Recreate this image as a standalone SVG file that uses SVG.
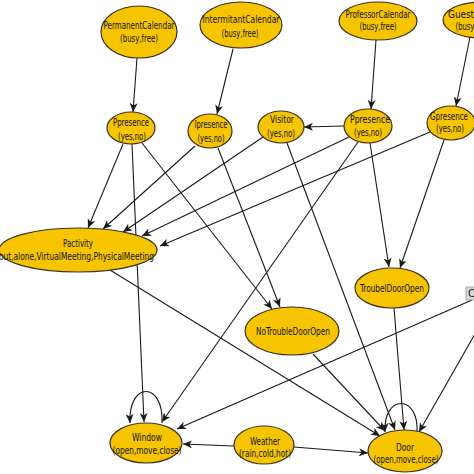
<svg xmlns="http://www.w3.org/2000/svg" width="474" height="474" viewBox="0 0 474 474">
<style>
.n ellipse{fill:#F6C500;stroke:#3a3020;stroke-width:1.2}
.n text{font-family:"DejaVu Sans Condensed","Liberation Sans",sans-serif;font-size:10.5px;fill:#111111;text-anchor:middle}
.e line,.e path{stroke:#1a1a1a;stroke-width:1.1;fill:none;marker-end:url(#ah)}
</style>
<defs>
<marker id="ah" markerUnits="userSpaceOnUse" markerWidth="10" markerHeight="8" refX="9" refY="4" orient="auto">
<path d="M0,0 L9,4 L0,8 L2.5,4 Z" fill="#1a1a1a"/>
</marker>
</defs>
<rect width="474" height="474" fill="#ffffff"/>
<g id="connectors" class="e">
<line x1="137" y1="58" x2="133" y2="112"/>
<line x1="233" y1="49" x2="217" y2="114"/>
<line x1="376" y1="40" x2="371" y2="109"/>
<line x1="470" y1="37" x2="456" y2="106"/>
<line x1="344" y1="126" x2="304" y2="127"/>
<line x1="123" y1="144" x2="88" y2="228"/>
<line x1="195" y1="146" x2="103" y2="229"/>
<line x1="263" y1="137" x2="123" y2="232"/>
<line x1="349" y1="137" x2="142" y2="236"/>
<line x1="430" y1="132" x2="160" y2="246"/>
<line x1="132" y1="144" x2="144" y2="422"/>
<line x1="142" y1="143" x2="272" y2="309"/>
<line x1="218" y1="148" x2="280" y2="307"/>
<line x1="287" y1="143" x2="395" y2="430"/>
<line x1="358" y1="142" x2="162" y2="422"/>
<line x1="370" y1="143" x2="389" y2="267"/>
<line x1="444" y1="140" x2="400" y2="268"/>
<line x1="110" y1="270" x2="380" y2="436"/>
<line x1="313" y1="354" x2="385" y2="431"/>
<line x1="394" y1="308" x2="404" y2="430"/>
<line x1="472" y1="300" x2="177" y2="429"/>
<line x1="480" y1="325" x2="419" y2="432"/>
<line x1="234" y1="446" x2="183" y2="444"/>
<line x1="294" y1="447" x2="368" y2="453"/>
<path d="M162,423 C164,381 128,381 130,423"/>
<path d="M417,432 C419,394 383,394 385,432"/>
</g>
<g id="PermanentCalendar" class="n"><ellipse cx="139" cy="32" rx="38" ry="26"/><text x="139" y="29" textLength="71" lengthAdjust="spacingAndGlyphs">PermanentCalendar</text><text x="139" y="42" textLength="38" lengthAdjust="spacingAndGlyphs">(busy,free)</text></g>
<g id="IntermitantCalendar" class="n"><ellipse cx="241" cy="25" rx="41" ry="23"/><text x="241" y="23" textLength="77" lengthAdjust="spacingAndGlyphs">IntermitantCalendar</text><text x="240" y="37" textLength="37" lengthAdjust="spacingAndGlyphs">(busy,free)</text></g>
<g id="ProfessorCalendar" class="n"><ellipse cx="378" cy="21" rx="39" ry="19"/><text x="378" y="18" textLength="65" lengthAdjust="spacingAndGlyphs">ProfessorCalendar</text><text x="378" y="30" textLength="37" lengthAdjust="spacingAndGlyphs">(busy,free)</text></g>
<g id="GuestCalendar" class="n"><ellipse cx="481" cy="20" rx="38" ry="18"/><text x="481" y="18" textLength="66" lengthAdjust="spacingAndGlyphs">GuestCalendar</text><text x="474" y="30" textLength="37" lengthAdjust="spacingAndGlyphs">(busy,free)</text></g>
<g id="Ppresence1" class="n"><ellipse cx="131" cy="128" rx="24" ry="16"/><text x="131" y="126" textLength="36" lengthAdjust="spacingAndGlyphs">Ppresence</text><text x="132" y="140" textLength="28" lengthAdjust="spacingAndGlyphs">(yes,no)</text></g>
<g id="Ipresence" class="n"><ellipse cx="210" cy="131" rx="22" ry="17"/><text x="211" y="128" textLength="33" lengthAdjust="spacingAndGlyphs">Ipresence</text><text x="211" y="142" textLength="27" lengthAdjust="spacingAndGlyphs">(yes,no)</text></g>
<g id="Visitor" class="n"><ellipse cx="281" cy="127" rx="23" ry="16"/><text x="282" y="123" textLength="24" lengthAdjust="spacingAndGlyphs">Visitor</text><text x="281" y="137" textLength="28" lengthAdjust="spacingAndGlyphs">(yes,no)</text></g>
<g id="Ppresence2" class="n"><ellipse cx="368" cy="126" rx="24" ry="17"/><text x="370" y="123" textLength="40" lengthAdjust="spacingAndGlyphs">Ppresence</text><text x="368" y="136" textLength="28" lengthAdjust="spacingAndGlyphs">(yes,no)</text></g>
<g id="Gpresence" class="n"><ellipse cx="451" cy="123" rx="24" ry="17"/><text x="449" y="120" textLength="38" lengthAdjust="spacingAndGlyphs">Gpresence</text><text x="450" y="132" textLength="28" lengthAdjust="spacingAndGlyphs">(yes,no)</text></g>
<g id="Pactivity" class="n"><ellipse cx="78" cy="250" rx="79" ry="22"/><text x="78" y="247" textLength="30" lengthAdjust="spacingAndGlyphs">Pactivity</text><text x="75" y="260" textLength="158" lengthAdjust="spacingAndGlyphs">(out,alone,VirtualMeeting,PhysicalMeeting</text></g>
<g id="TroubelDoorOpen" class="n"><ellipse cx="392" cy="288" rx="37" ry="20"/><text x="392" y="292" textLength="64" lengthAdjust="spacingAndGlyphs">TroubelDoorOpen</text></g>
<g id="NoTroubleDoorOpen" class="n"><ellipse cx="292" cy="331" rx="47" ry="24"/><text x="293" y="335" textLength="74" lengthAdjust="spacingAndGlyphs">NoTroubleDoorOpen</text></g>
<g id="Window" class="n"><ellipse cx="146" cy="443" rx="36" ry="20"/><text x="147" y="441" textLength="30" lengthAdjust="spacingAndGlyphs">Window</text><text x="147" y="454" textLength="69" lengthAdjust="spacingAndGlyphs">(open,move,close)</text></g>
<g id="Weather" class="n"><ellipse cx="264" cy="445" rx="30" ry="19"/><text x="265" y="445" textLength="30" lengthAdjust="spacingAndGlyphs">Weather</text><text x="265" y="457" textLength="52" lengthAdjust="spacingAndGlyphs">(rain,cold,hot)</text></g>
<g id="Door" class="n"><ellipse cx="405" cy="451" rx="37" ry="21"/><text x="405" y="451" textLength="18" lengthAdjust="spacingAndGlyphs">Door</text><text x="406" y="463" textLength="65" lengthAdjust="spacingAndGlyphs">(open,move,close)</text></g>
<g id="C"><rect x="466" y="287" width="20" height="13" fill="#d9d9d9" stroke="#9a9a9a" stroke-width="0.8"/><text x="468" y="297" font-family="Liberation Sans,sans-serif" font-size="11" fill="#222">C</text></g>
</svg>
